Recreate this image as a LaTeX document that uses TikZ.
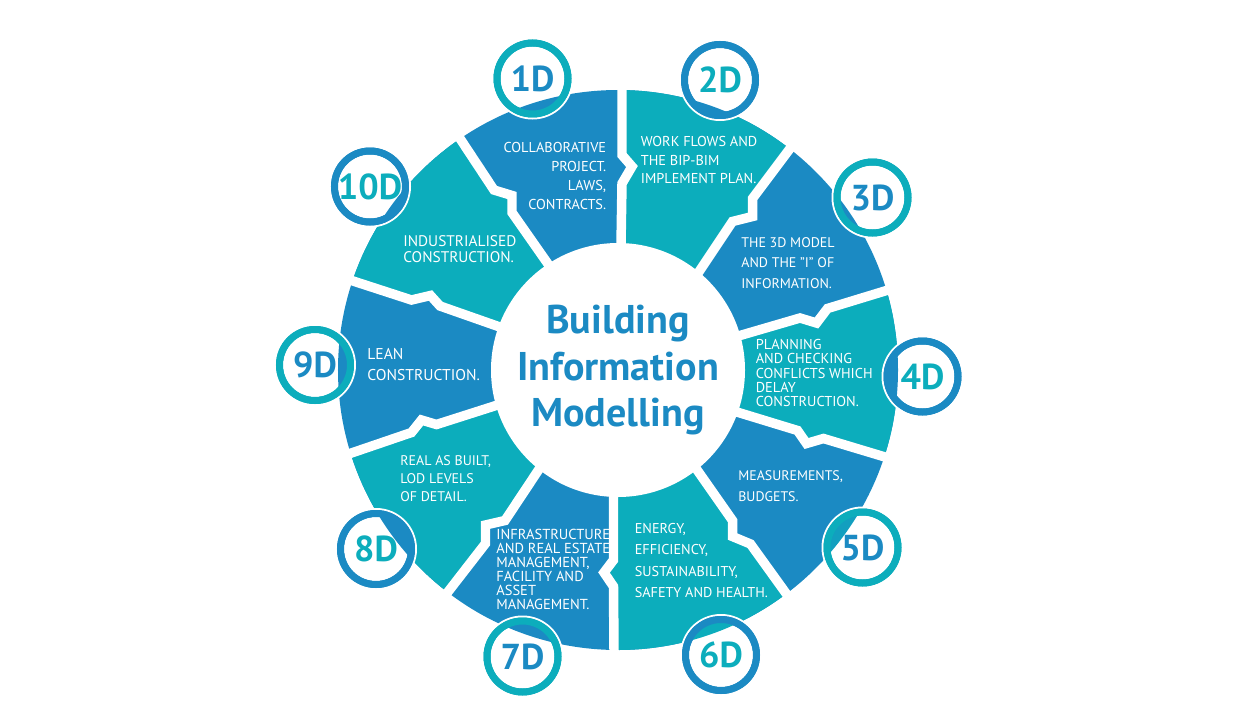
\documentclass[tikz,border=0pt]{standalone}
\usepackage{fontspec}
\setmainfont{PT Sans}
\definecolor{bimblue}{HTML}{1B8AC3}
\definecolor{bimteal}{HTML}{0CADBC}
\tikzset{
  cut/.style={draw=white, line width=5.4pt, line cap=rect, miter limit=10},
  lbl/.style 2 args={text=white, inner sep=0pt, align=left, anchor=west, font=\fontsize{#1}{#2}\selectfont}
}
\begin{document}
\begin{tikzpicture}
    \useasboundingbox (-12.36, -7) rectangle (12.42, 7.4);
    % wheel
    \fill[bimblue] (0, 0) circle (5.6);
    \begin{scope}
      \clip (0, 0) circle (5.6);
      \fill[bimteal] (0, 0) -- (0.06, 2.5) -- (0.08, 3.73) -- (0.28, 4.07) -- (0.08, 4.3) -- (0.09, 6.4)
        -- (3.9, 5.05) -- (3.44, 4.43) -- (2.69, 3.43) -- (2.69, 3.07) -- (2.29, 2.97) -- (1.63, 1.98) -- cycle;
      \fill[bimteal] (0, 0) -- (2.44, 0.69) -- (3.64, 1.04) -- (3.97, 0.94) -- (4.19, 1.23) -- (5.37, 1.59) -- (6.1, 1.81)
        -- (6.1, -1.99) -- (5.34, -1.74) -- (4.11, -1.37) -- (3.77, -1.47) -- (3.59, -1.21) -- (2.41, -0.85) -- cycle;
      \fill[bimteal] (0, 0) -- (1.59, -2.01) -- (2.29, -3.01) -- (2.29, -3.33) -- (2.65, -3.48) -- (3.37, -4.48) -- (3.85, -5.12)
        -- (-0.08, -6.4) -- (-0.08, -5.6) -- (-0.09, -4.33) -- (-0.28, -4.05) -- (-0.09, -3.8) -- (-0.09, -2.54) -- cycle;
      \fill[bimteal] (0, 0) -- (-1.59, -2) -- (-2.26, -3.01) -- (-2.65, -3.1) -- (-2.65, -3.47) -- (-3.41, -4.45) -- (-3.9, -5.08)
        -- (-6.1, -1.9) -- (-5.36, -1.67) -- (-4.13, -1.25) -- (-3.93, -1) -- (-3.63, -1.09) -- (-2.44, -0.71) -- cycle;
      \fill[bimteal] (0, 0) -- (-2.42, 0.88) -- (-3.56, 1.28) -- (-3.75, 1.49) -- (-4.13, 1.4) -- (-5.33, 1.79) -- (-6.1, 2.05)
        -- (-3.6, 5.27) -- (-3.16, 4.63) -- (-2.48, 3.6) -- (-2.12, 3.49) -- (-2.12, 3.15) -- (-1.42, 2.15) -- cycle;
    \end{scope}
    % cuts
    \draw[cut] (0.08, 5.6) -- (0.08, 4.3) -- (0.28, 4.07) -- (0.08, 3.73) -- (0.06, 2.5);
    \draw[cut] (3.44, 4.43) -- (2.69, 3.43) -- (2.69, 3.07) -- (2.29, 2.97) -- (1.63, 1.98);
    \draw[cut] (5.37, 1.59) -- (4.19, 1.23) -- (3.97, 0.94) -- (3.64, 1.04) -- (2.44, 0.69);
    \draw[cut] (5.34, -1.74) -- (4.11, -1.37) -- (3.77, -1.47) -- (3.59, -1.21) -- (2.41, -0.85);
    \draw[cut] (3.37, -4.48) -- (2.65, -3.48) -- (2.29, -3.33) -- (2.29, -3.01) -- (1.59, -2.01);
    \draw[cut] (-0.08, -5.6) -- (-0.09, -4.33) -- (-0.28, -4.05) -- (-0.09, -3.8) -- (-0.09, -2.54);
    \draw[cut] (-3.41, -4.45) -- (-2.65, -3.47) -- (-2.65, -3.1) -- (-2.26, -3.01) -- (-1.59, -2);
    \draw[cut] (-5.36, -1.67) -- (-4.13, -1.25) -- (-3.93, -1) -- (-3.63, -1.09) -- (-2.44, -0.71);
    \draw[cut] (-5.33, 1.79) -- (-4.13, 1.4) -- (-3.75, 1.49) -- (-3.56, 1.28) -- (-2.42, 0.88);
    \draw[cut] (-3.16, 4.63) -- (-2.48, 3.6) -- (-2.12, 3.49) -- (-2.12, 3.15) -- (-1.42, 2.15);
    \node[circle, fill=white, minimum size=5.08cm, inner sep=0pt, align=center, text=bimblue,
          font=\fontsize{22.8}{26.7}\selectfont\bfseries] (title) at (0, 0)
         {Building\\Information\\Modelling};
    % texts
    \node[lbl={8.15}{10.8}, anchor=east, align=right] (t1) at (-0.23, 3.88) {COLLABORATIVE\\PROJECT.\\LAWS,\\CONTRACTS.};
    \node[lbl={8.15}{10.8}] (t2) at (0.45, 4.2) {WORK FLOWS AND\\THE BIP-BIM\\IMPLEMENT PLAN.};
    \node[lbl={7.95}{11.8}] (t3) at (2.46, 2.14) {THE 3D MODEL\\AND THE "I" OF\\INFORMATION.};
    \node[lbl={8.15}{8}] (t4) at (2.75, -0.06) {PLANNING\\AND CHECKING\\CONFLICTS WHICH\\DELAY\\CONSTRUCTION.};
    \node[lbl={7.9}{12}] (t5) at (2.4, -2.33) {MEASUREMENTS,\\BUDGETS.};
    \node[lbl={8.1}{12}] (t6) at (0.33, -3.81) {ENERGY,\\EFFICIENCY,\\SUSTAINABILITY,\\SAFETY AND HEALTH.};
    \node[lbl={8.25}{8}] (t7) at (-2.44, -3.99) {INFRASTRUCTURE\\AND REAL ESTATE\\MANAGEMENT,\\FACILITY AND\\ASSET\\MANAGEMENT.};
    \node[lbl={7.95}{10.2}] (t8) at (-4.36, -2.18) {REAL AS BUILT,\\LOD LEVELS\\OF DETAIL.};
    \node[lbl={8.9}{12}] (t9) at (-5.02, 0.11) {LEAN\\CONSTRUCTION.};
    \node[lbl={8.75}{9.5}] (t10) at (-4.3, 2.42) {INDUSTRIALISED\\CONSTRUCTION.};
    % badges
    \foreach \x/\y/\lab/\c/\d/\e in {-1.71/5.83/1D/bimteal/bimblue/bimblue, 2.04/5.8/2D/bimblue/bimteal/bimblue,
                                     5.09/3.45/3D/bimteal/bimblue/bimblue, 6.09/-0.13/4D/bimblue/bimteal/bimblue,
                                     4.89/-3.55/5D/bimteal/bimblue/bimteal!60!bimblue, 2.06/-5.7/6D/bimblue/bimteal/bimteal,
                                     -1.91/-5.73/7D/bimteal/bimblue/bimblue, -4.84/-3.58/8D/bimblue/bimteal/bimblue,
                                     -6.06/0.1/9D/bimteal/bimblue/bimblue, -4.96/3.67/10D/bimblue/bimteal/bimblue} {
      \fill[white] (\x, \y) circle (0.82);
      \fill[\c] (\x, \y) circle (0.78);
      \fill[white] (\x, \y) circle (0.64);
      \begin{scope}
        \clip (0, 0) circle (5.6);
        \clip (\x, \y) circle (0.66);
        \fill[\e] (\x, \y) circle (0.66);
      \end{scope}
      \fill[\c, even odd rule] (\x, \y) circle (0.78) (\x, \y) circle (0.64);
      \node[text=\d, inner sep=0pt, font=\fontsize{20.5}{24}\selectfont\bfseries] (b\lab) at (\x, \y) {\lab};
    }
  \end{tikzpicture}
\end{document}
